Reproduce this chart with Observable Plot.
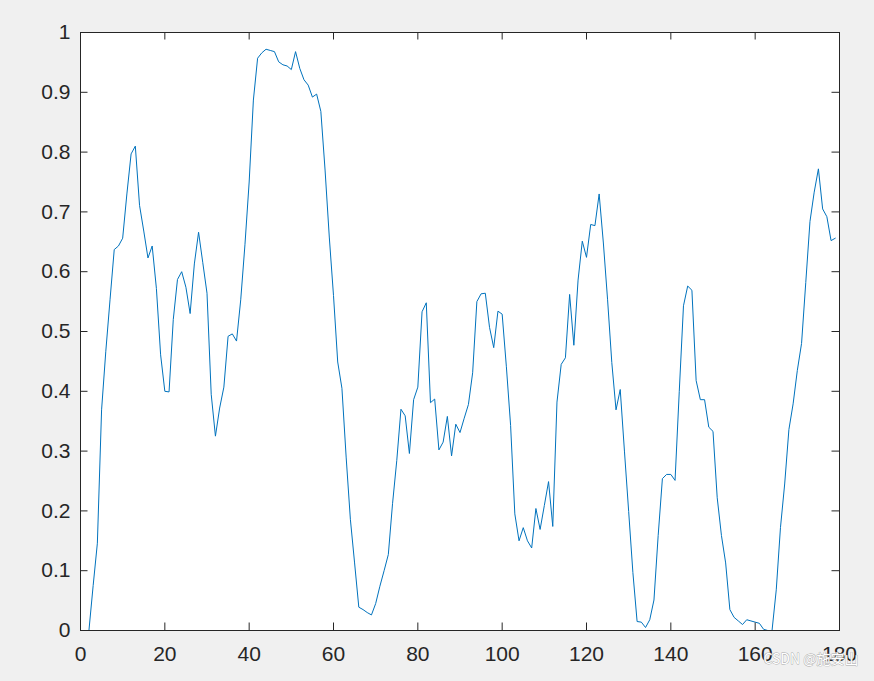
<!DOCTYPE html>
<html>
<head>
<meta charset="utf-8">
<script src="https://cdn.jsdelivr.net/npm/d3@7"></script>
<script src="https://cdn.jsdelivr.net/npm/@observablehq/plot@0.6"></script>
<style>
  html, body { margin: 0; padding: 0; background: #f0f0f0; }
</style>
</head>
<body>
<div id="chart"></div>
<script>
// Series values, sampled at x = 1, 2, ..., 179
const values = [
  0, 0, 0.075, 0.146, 0.369, 0.467, 0.553, 0.637, 0.643, 0.656,
  0.73, 0.797, 0.81, 0.711, 0.668, 0.623, 0.643, 0.572, 0.461, 0.40,
  0.399, 0.52, 0.587, 0.60, 0.574, 0.53, 0.613, 0.666, 0.615, 0.564,
  0.395, 0.325, 0.372, 0.407, 0.492, 0.496, 0.484, 0.553, 0.645, 0.75,
  0.887, 0.957, 0.966, 0.972, 0.970, 0.968, 0.951, 0.946, 0.944, 0.938,
  0.968, 0.94, 0.921, 0.912, 0.892, 0.897, 0.868, 0.77, 0.658, 0.56,
  0.449, 0.405, 0.29, 0.186, 0.113, 0.039, 0.035, 0.03, 0.026, 0.045,
  0.074, 0.10, 0.127, 0.212, 0.284, 0.37, 0.359, 0.296, 0.386, 0.407,
  0.533, 0.548, 0.381, 0.387, 0.302, 0.315, 0.358, 0.292, 0.345, 0.331,
  0.355, 0.378, 0.431, 0.55, 0.563, 0.564, 0.507, 0.473, 0.534, 0.529,
  0.441, 0.343, 0.195, 0.15, 0.172, 0.15, 0.138, 0.204, 0.169, 0.209,
  0.249, 0.174, 0.382, 0.445, 0.456, 0.562, 0.477, 0.586, 0.651, 0.624,
  0.679, 0.677, 0.73, 0.648, 0.553, 0.448, 0.369, 0.403, 0.30, 0.199,
  0.097, 0.015, 0.014, 0.005, 0.018, 0.051, 0.159, 0.254, 0.261, 0.261,
  0.251, 0.40, 0.543, 0.576, 0.569, 0.418, 0.386, 0.386, 0.34, 0.333,
  0.222, 0.159, 0.113, 0.035, 0.022, 0.016, 0.01, 0.018, 0.016, 0.014,
  0.012, 0.002, 0, 0, 0.068, 0.172, 0.245, 0.336, 0.379, 0.435,
  0.48, 0.582, 0.684, 0.733, 0.772, 0.705, 0.692, 0.652, 0.656
];

// Tick values / labels
const xTicks = [0, 20, 40, 60, 80, 100, 120, 140, 160, 180];
const yTicks = [0, 0.1, 0.2, 0.3, 0.4, 0.5, 0.6, 0.7, 0.8, 0.9, 1];
const yTickLabels = ["0", "0.1", "0.2", "0.3", "0.4", "0.5", "0.6", "0.7", "0.8", "0.9", "1"];
const watermark = "CSDN @施安山";

const W = 874, H = 681;
const mL = 80, mR = 35, mT = 32, mB = 51;
const plotW = W - mL - mR, plotH = H - mT - mB;
const tickLen = 7.5;
const axisColor = "#262626";
const font = "'Liberation Sans', Arial, Helvetica, sans-serif";

const data = values.map((v, i) => ({x: i + 1, y: v}));

const chart = Plot.plot({
  width: W,
  height: H,
  marginLeft: mL,
  marginRight: mR,
  marginTop: mT,
  marginBottom: mB,
  style: {background: "#f0f0f0", fontFamily: font, color: axisColor, overflow: "visible"},
  x: {domain: [0, 180], ticks: xTicks},
  y: {domain: [0, 1], ticks: yTicks},
  marks: [
    Plot.frame({fill: "white", stroke: null}),
    Plot.line(data, {x: "x", y: "y", stroke: "#0072BD", strokeWidth: 1, clip: true}),
    // inward ticks, all four sides
    Plot.ruleX(xTicks, {x: d => d, insetTop: plotH - tickLen, stroke: axisColor, strokeWidth: 1}),
    Plot.ruleX(xTicks, {x: d => d, insetBottom: plotH - tickLen, stroke: axisColor, strokeWidth: 1}),
    Plot.ruleY(yTicks, {y: d => d, insetRight: plotW - tickLen, stroke: axisColor, strokeWidth: 1}),
    Plot.ruleY(yTicks, {y: d => d, insetLeft: plotW - tickLen, stroke: axisColor, strokeWidth: 1}),
    Plot.frame({stroke: axisColor, strokeWidth: 1}),
    Plot.axisX(xTicks, {anchor: "bottom", tickSize: 0, tickPadding: 16, fontSize: 21, label: null, tickFormat: d => String(d), fill: axisColor}),
    Plot.axisY(yTicks, {anchor: "left", tickSize: 0, tickPadding: 10, fontSize: 21, label: null, tickFormat: (d, i) => yTickLabels[i], fill: axisColor}),
    Plot.text([watermark], {
      text: d => d, frameAnchor: "bottom-right", textAnchor: "end",
      dx: 19, dy: 33, fontSize: 14, fill: "#ffffff", stroke: "#a8a8a8", strokeWidth: 0.8,
      fontFamily: "'Noto Sans CJK SC', 'Noto Sans', sans-serif"
    })
  ]
});

document.getElementById("chart").appendChild(chart);
</script>
</body>
</html>
